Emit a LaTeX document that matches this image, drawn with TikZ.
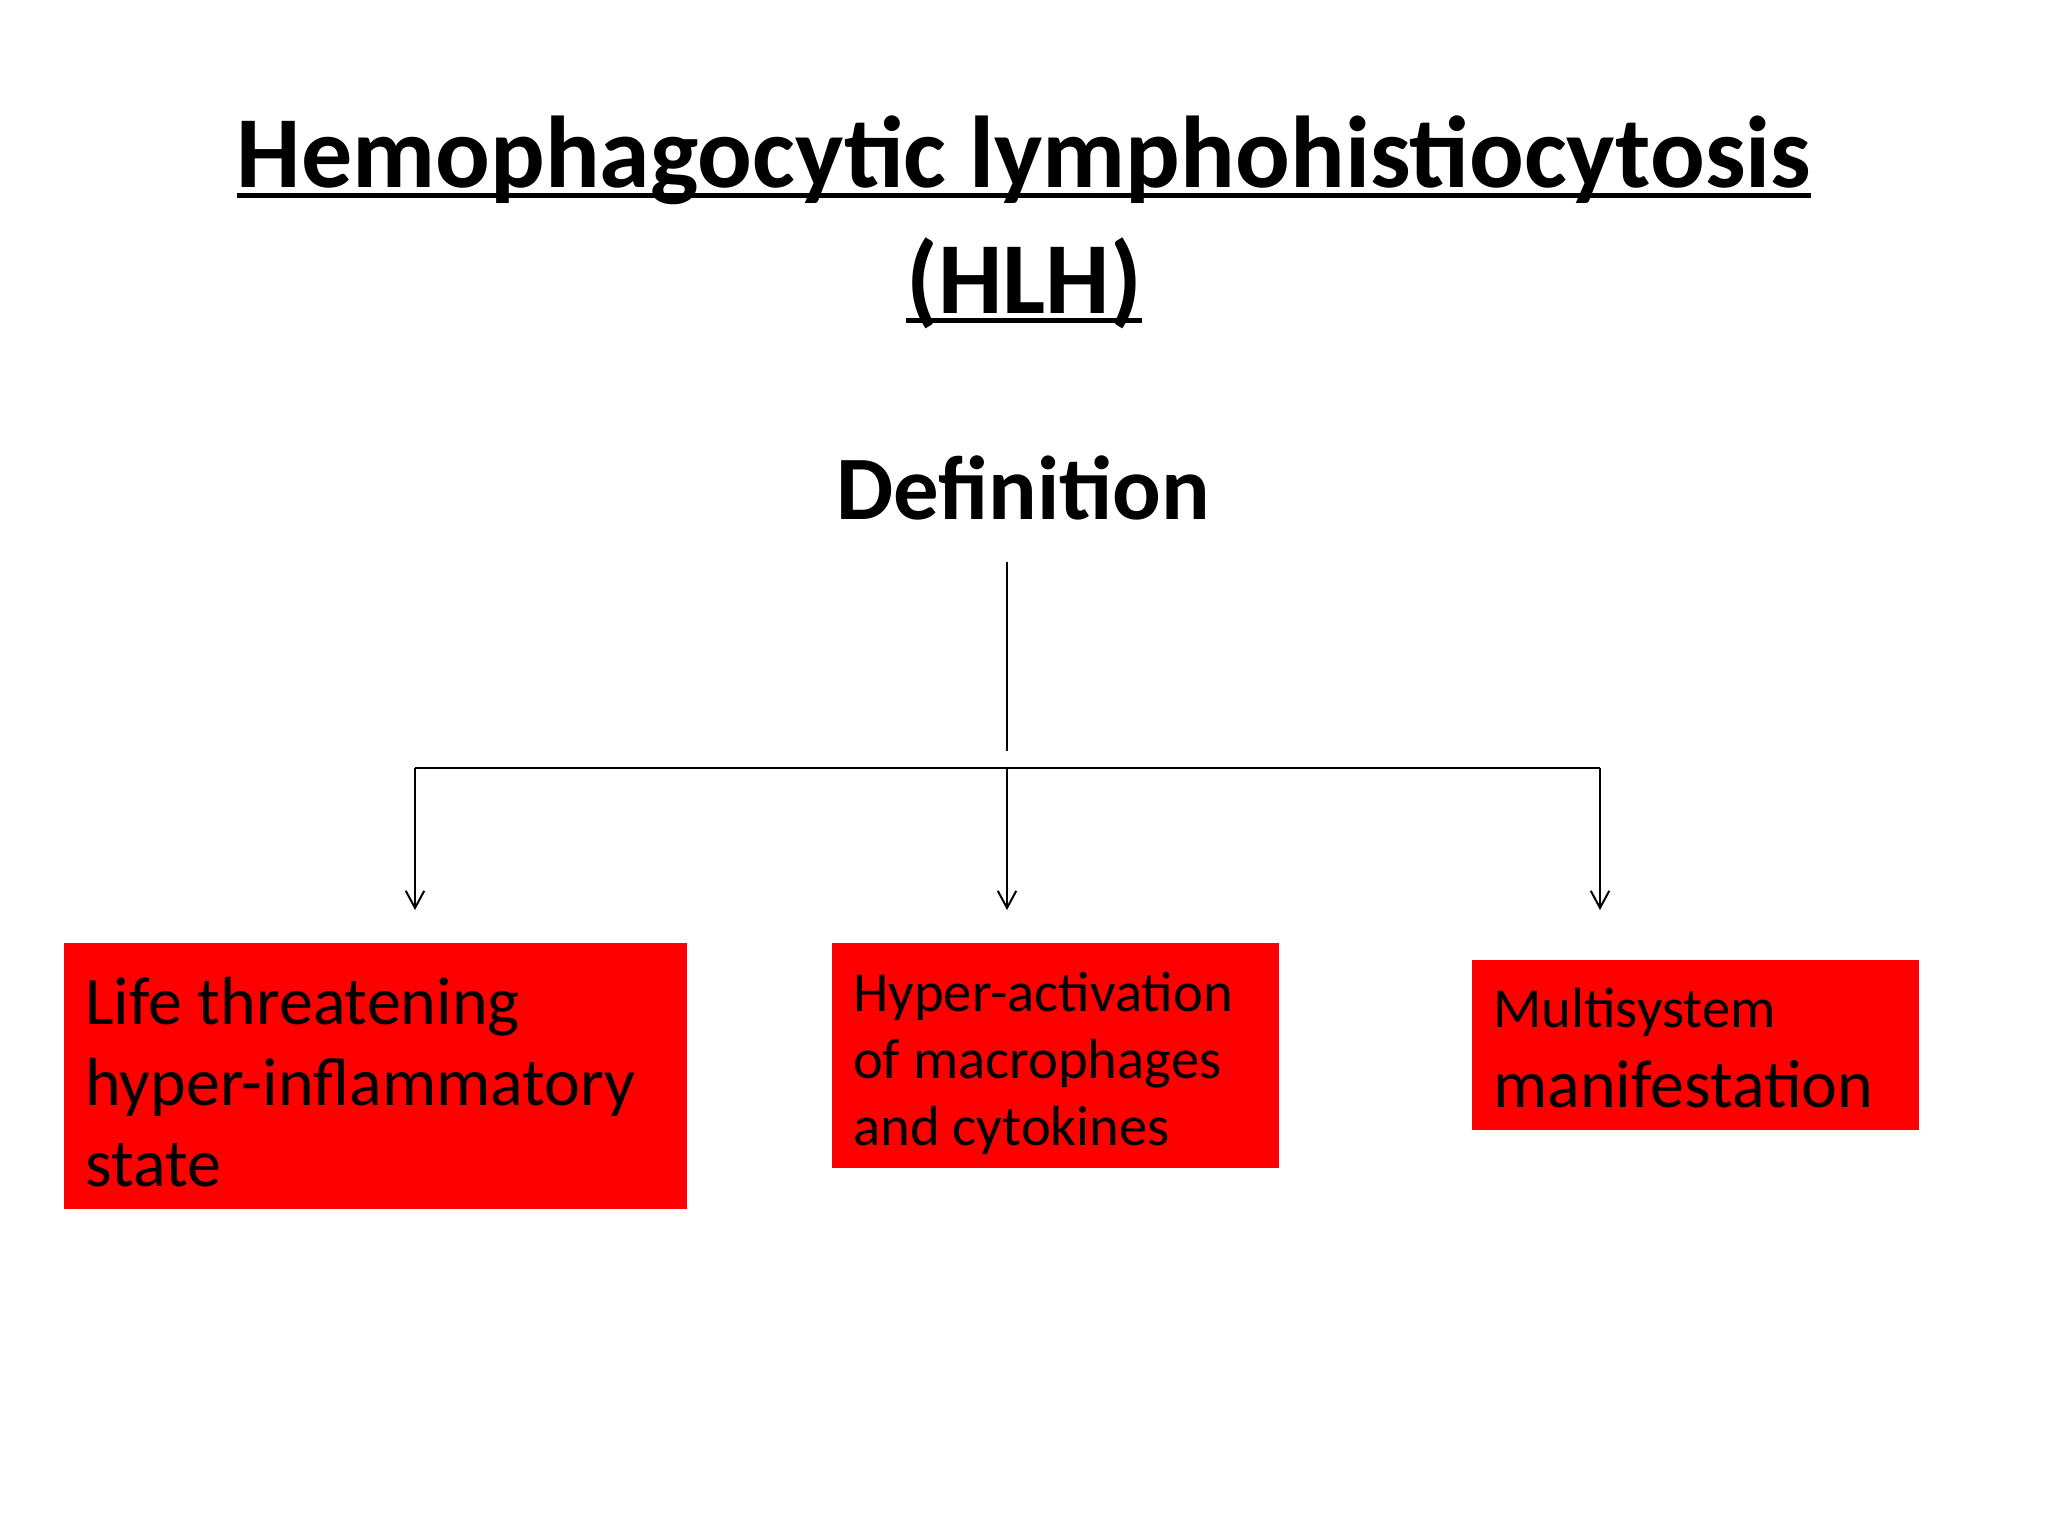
\documentclass[tikz,border=0pt]{standalone}
\usepackage{fontspec}
\setmainfont{Carlito}
\usetikzlibrary{arrows.meta}
\newcommand\ulText[1]{\setbox0\hbox{#1}\leavevmode\rlap{\rule[-3.6bp]{\wd0}{1.8bp}}\box0}
\begin{document}
\begin{tikzpicture}[x=0.35156bp, y=-0.35156bp,
  conn/.style={line width=0.7bp, draw=black},
  arr/.style={conn, -{Straight Barb[length=6bp,width=6.5bp]}},
  redbox/.style={fill=red, draw=none, text=black, align=flush left, inner xsep=7.4bp, inner ysep=0pt},
  heading/.style={inner sep=0pt, align=center, font=\bfseries}
]
\useasboundingbox (0,0) rectangle (2048,1536);
\fill[white] (0,0) rectangle (2048,1536);

% title
\node[heading, font=\bfseries\fontsize{36}{44.3}\selectfont, anchor=base] (title) at (1024,313)
  {\ulText{Hemophagocytic lymphohistiocytosis}\\\ulText{(HLH)}};

\node[heading, font=\bfseries\fontsize{32}{38}\selectfont, anchor=base] (def) at (1023,519) {Definition};

% boxes
\node[redbox, text width=204bp, minimum height=93.5bp, text height=28.8bp, text depth=64.7bp, font=\fontsize{24}{28.5}\selectfont] (b1) at (375.5,1076)
  {Life threatening\\hyper-inflammatory\\state};
\node[redbox, text width=142.3bp, minimum height=79.1bp, text height=24.25bp, text depth=54.85bp, font=\fontsize{20}{23.6}\selectfont] (b2) at (1055.5,1055.5)
  {Hyper-activation\\of macrophages\\and cytokines};
\node[redbox, text width=142.3bp, minimum height=59.8bp, text height=23.9bp, text depth=35.9bp, font=\fontsize{24}{28}\selectfont] (b3) at (1695.5,1045)
  {{\fontsize{20}{28}\selectfont Multisystem}\\manifestation};

% connectors
\coordinate (v1) at (1007,562);
\coordinate (v2) at (1007,751);
\coordinate (hl) at (415,768);
\coordinate (hm) at (1007,768);
\coordinate (hr) at (1600,768);
\coordinate (e1) at (415,910);
\coordinate (e2) at (1007,910);
\coordinate (e3) at (1600,910);
\draw[conn] (v1) -- (v2);
\draw[conn] (hl) -- (hr);
\draw[arr] (hl) -- (e1);
\draw[arr] (hm) -- (e2);
\draw[arr] (hr) -- (e3);
\end{tikzpicture}
\end{document}
